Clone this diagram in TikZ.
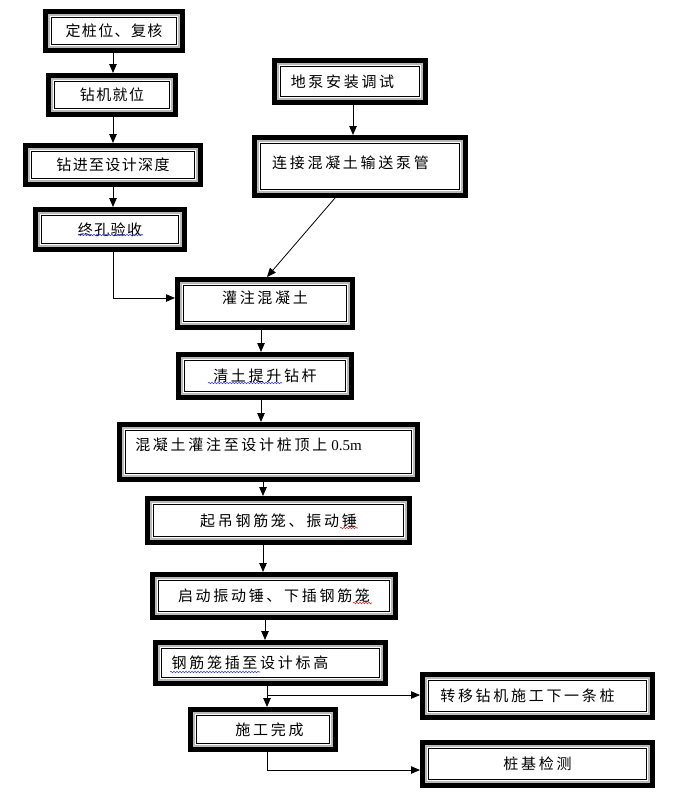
\documentclass[tikz,border=0pt]{standalone}
\usepackage{fontspec}
\setmainfont{Liberation Serif}
\newfontfamily\cjk[LetterSpace=18]{Noto Sans CJK SC}
\newfontfamily\cjkt[LetterSpace=9]{Noto Sans CJK SC}
\newfontfamily\lat{Liberation Serif}
\usetikzlibrary{arrows.meta,decorations.pathmorphing}
\tikzset{
  pbox/.style={draw=black, line width=5pt, fill=white, inner sep=0pt,
    font=\cjk\fontsize{15}{18}\selectfont,
    path picture={
      \draw[line width=1.5pt, gray!55]
        ([shift={(3.6pt,-3.6pt)}]path picture bounding box.north west) rectangle
        ([shift={(-3.6pt,3.6pt)}]path picture bounding box.south east);
      \draw[line width=0.8pt, black]
        ([shift={(5.8pt,-5.8pt)}]path picture bounding box.north west) rectangle
        ([shift={(-5.8pt,5.8pt)}]path picture bounding box.south east);
    }},
  tight/.style={font=\cjkt\fontsize{15}{18}\selectfont},
  arr/.style={line width=0.8pt, -{Triangle[width=7.5pt,length=9pt]}},
  wavyb/.style={draw={rgb,255:red,60;green,60;blue,220}, line width=0.6pt, decorate,
    decoration={snake, segment length=3pt, amplitude=0.7pt}},
  wavyr/.style={draw={rgb,255:red,225;green,40;blue,40}, line width=0.6pt, decorate,
    decoration={snake, segment length=3pt, amplitude=0.7pt}},
}
\begin{document}
\begin{tikzpicture}[x=1pt, y=-1pt]
\fill[white] (0,0) rectangle (700,798);
\useasboundingbox (0,0) rectangle (700,798);

\node[pbox, tight, minimum width=137pt, minimum height=39pt] (b1) at (114,31) {定桩位、复核};
\node[pbox, tight, minimum width=127pt, minimum height=39pt] (b2) at (112,95) {钻机就位};
\node[pbox, tight, minimum width=175pt, minimum height=39pt] (b3) at (113,165) {钻进至设计深度};
\node[pbox, tight, minimum width=149pt, minimum height=40pt] (b4) at (110,229.5) {终孔验收};
\node[pbox, minimum width=151pt, minimum height=42pt] (b5) at (350,81.5) {地泵安装调试\hspace*{15pt}};
\node[pbox, minimum width=211pt, minimum height=58pt] (b6) at (360,166.5) {\raisebox{9pt}{连接混凝土输送泵管\hspace*{19pt}}};
\node[pbox, minimum width=175pt, minimum height=48pt] (b7) at (265,303.5) {\raisebox{13pt}{灌注混凝土}};
\node[pbox, minimum width=173pt, minimum height=43pt] (b8) at (265,376) {清土提升钻杆};
\node[pbox, minimum width=298pt, minimum height=55pt] (b9) at (268.5,452) {\raisebox{16pt}{混凝土灌注至设计桩顶上\hspace*{4pt}{\lat 0.5m}\hspace*{40pt}}};
\node[pbox, minimum width=262pt, minimum height=44pt] (b10) at (278.5,520.5) {起吊钢筋笼、振动锤};
\node[pbox, minimum width=243pt, minimum height=43pt] (b11) at (274,596) {启动振动锤、下插钢筋笼};
\node[pbox, minimum width=230pt, minimum height=41pt] (b12) at (270.5,663) {钢筋笼插至设计标高\hspace*{41pt}};
\node[pbox, minimum width=230pt, minimum height=43pt] (b13) at (537.5,696) {转移钻机施工下一条桩\hspace*{20pt}};
\node[pbox, minimum width=145pt, minimum height=40pt] (b14) at (263,729.5) {\hspace*{13pt}施工完成};
\node[pbox, minimum width=230pt, minimum height=43pt] (b15) at (537.5,764) {桩基检测};

\draw[arr] (b1.south -| 113,0) -- (b2.north -| 113,0);
\draw[arr] (b2.south -| 113,0) -- (b3.north -| 113,0);
\draw[arr] (b3.south -| 113,0) -- (b4.north -| 113,0);
\draw[arr] (b4.south -| 113,0) |- (b7.west |- 0,298);
\draw[arr] (b5.south -| 353,0) -- (b6.north -| 353,0);
\draw[arr] (b6.south -| 335,0) -- (b7.north -| 267,0);
\draw[arr] (b7.south -| 261,0) -- (b8.north -| 261,0);
\draw[arr] (b8.south -| 261,0) -- (b9.north -| 261,0);
\draw[arr] (b9.south -| 263,0) -- (b10.north -| 263,0);
\draw[arr] (b10.south -| 263,0) -- (b11.north -| 263,0);
\draw[arr] (b11.south -| 265,0) -- (b12.north -| 265,0);
\draw[arr] (b12.south -| 267,0) -- (b14.north -| 267,0);
\coordinate (br) at (267,695);
\draw[arr] (br) -- (b13.west |- br);
\draw[arr] (b14.south -| 267,0) |- (b15.west |- 0,770);

\draw[wavyb] (78,235) -- (143,235);
\draw[wavyb] (208,383) -- (282,383);
\draw[wavyr] (340,528) -- (358,528);
\draw[wavyr] (353,603) -- (372,603);
\draw[wavyb] (170,672) -- (260,672);
\end{tikzpicture}
\end{document}
